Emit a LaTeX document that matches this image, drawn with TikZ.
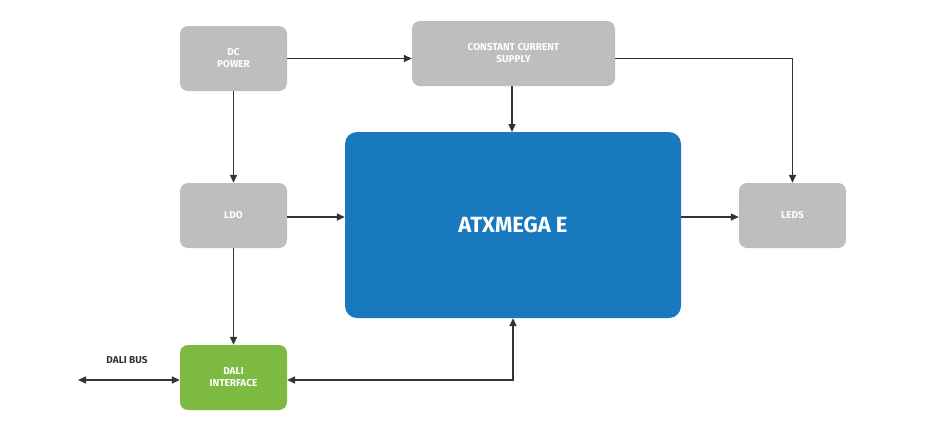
\documentclass[tikz,border=0pt]{standalone}
\usepackage{fontspec}
\setmainfont{Fira Sans}
\usetikzlibrary{arrows.meta}
\definecolor{boxgray}{HTML}{BDBEC0}
\definecolor{boxblue}{HTML}{1879BF}
\definecolor{boxgreen}{HTML}{7CBA41}
\definecolor{linec}{HTML}{333333}
\begin{document}
\begin{tikzpicture}[x=1pt,y=-1pt,
  box/.style={rounded corners=8pt,text=white,font=\fontsize{10}{12}\selectfont\bfseries,align=center,inner sep=0pt},
  gbox/.style={box,fill=boxgray,minimum width=107pt,minimum height=65pt},
  arr/.style={draw=linec,line width=1.4pt,-{Triangle[length=8pt,width=7pt]}},
  darr/.style={draw=linec,line width=1.4pt,{Triangle[length=8pt,width=7pt]}-{Triangle[length=8pt,width=7pt]}}]
\useasboundingbox (0,0) rectangle (930,445);
\node[gbox] (dc) at (233.5,58.5) {DC\\POWER};
\node[gbox,minimum width=203pt] (ccs) at (513.5,53.5) {CONSTANT CURRENT\\SUPPLY};
\node[box,fill=boxblue,minimum width=336pt,minimum height=186pt,rounded corners=12pt,font=\fontsize{22}{26}\selectfont\bfseries] (atx) at (513,225) {ATXMEGA E};
\node[gbox] (ldo) at (233.5,215.5) {LDO};
\node[gbox] (leds) at (792.5,215.5) {LEDS};
\node[box,fill=boxgreen,minimum width=107pt,minimum height=65pt] (dali) at (233.5,377.5) {DALI\\INTERFACE};
\coordinate (bus) at (78,380);
\node[font=\fontsize{10}{12}\selectfont\bfseries,text=linec] (buslbl) at (127,360) {DALI BUS};
\draw[arr] (dc.east) -- (ccs.west|-dc.east);
\draw[arr] (dc.south) -- (ldo.north);
\draw[arr] (512,86) -- (512,132);
\draw[arr] (ccs.east|-dc.east) -| (leds.north);
\draw[arr] (ldo.east|-0,217) -- (atx.west|-0,217);
\draw[arr] (atx.east|-0,217) -- (leds.west|-0,217);
\draw[arr] (ldo.south) -- (dali.north);
\draw[darr] (dali.east|-0,380) -| (atx.south);
\draw[darr] (bus) -- (dali.west|-bus);
\end{tikzpicture}
\end{document}
